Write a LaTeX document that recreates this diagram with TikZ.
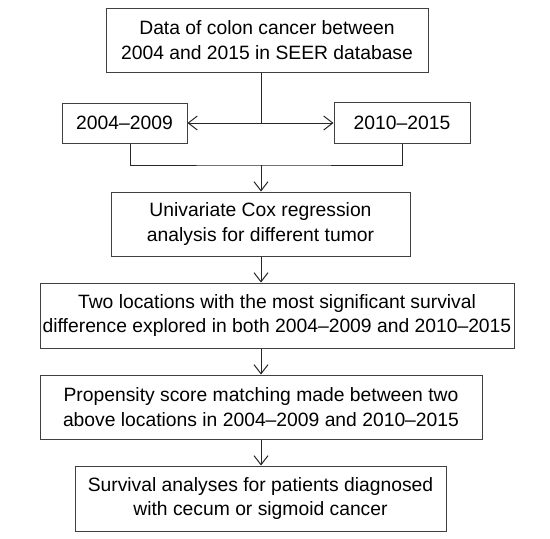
\documentclass[tikz,border=0pt]{standalone}
\usepackage{fontspec}
\setmainfont{Liberation Sans}
\usetikzlibrary{arrows.meta}

\tikzstyle{box}=[draw=black!75, line width=1pt, align=center, inner sep=0pt, font=\fontsize{19.3}{24.5}\selectfont]
\tikzstyle{flow}=[-{Straight Barb[length=9pt, width=14pt]}, line width=1pt, black!85]
\tikzstyle{link}=[line width=1pt, black!85]

\begin{document}
\begin{tikzpicture}[x=1pt, y=-1pt]
      \useasboundingbox (0,0) rectangle (550,539);
      \node[box, minimum width=322, minimum height=64] (data) at (267, 40) {Data of colon cancer between\\2004 and 2015 in SEER database};
      \node[box, minimum width=125, minimum height=40] (early) at (124.5, 123) {2004--2009};
      \node[box, minimum width=136, minimum height=41] (late) at (402, 122.5) {2010--2015};
      \node[box, minimum width=299, minimum height=64] (cox) at (260.5, 224) {Univariate Cox regression\\analysis for different tumor};
      \node[box, minimum width=474, minimum height=65] (two) at (277, 315.5) {Two locations with the most significant survival\\difference explored in both 2004--2009 and 2010--2015};
      \node[box, minimum width=442, minimum height=64] (psm) at (261, 407) {Propensity score matching made between two\\above locations in 2004--2009 and 2010--2015};
      \node[box, minimum width=371, minimum height=65] (surv) at (260.5, 498.5) {Survival analyses for patients diagnosed\\with cecum or sigmoid cancer};
      \coordinate (split) at (261, 123);
      \coordinate (merge) at (261, 165);
      \draw[link] (data.south -| split) to (split);
      \draw[flow] (split) to (early.east);
      \draw[flow] (split) to (late.west |- split);
      \draw[link] ([xshift=5.5]early.south) |- (merge) -| (late.south);
      \draw[flow] (merge) to (cox.north -| merge);
      \draw[flow] (cox.south -| merge) to (two.north -| merge);
      \draw[flow] (two.south -| merge) to (psm.north -| merge);
      \draw[flow] (psm.south -| merge) to (surv.north -| merge);
    \end{tikzpicture}
\end{document}
